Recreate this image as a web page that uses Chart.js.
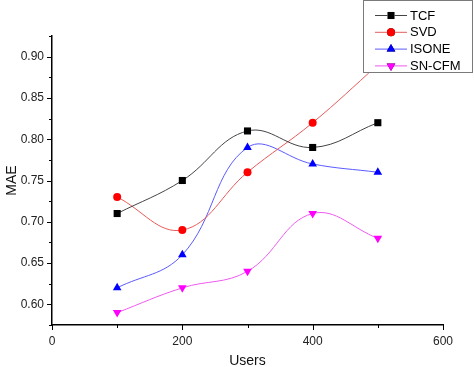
<!DOCTYPE html>
<html>
<head>
<meta charset="utf-8">
<script src="https://cdn.jsdelivr.net/npm/chart.js@4"></script>
<style>
  html, body { margin: 0; padding: 0; background: #fff; }
  #wrap { width: 474px; height: 367px; }
</style>
</head>
<body>
<div id="wrap"><canvas id="chart" width="474" height="367"></canvas></div>
<script>
const users = [100, 200, 300, 400, 500];
const tcf = [0.71, 0.75, 0.81, 0.79, 0.82];
const svd = [0.73, 0.69, 0.76, 0.82, 0.89];
const isone = [0.62, 0.66, 0.79, 0.77, 0.76];
const sncfm = [0.59, 0.62, 0.64, 0.71, 0.68];

const xLabels = [0, 200, 400, 600];
const yLabels = [0.60, 0.65, 0.70, 0.75, 0.80, 0.85, 0.90];

const pts = (ys) => users.map((u, i) => ({ x: u, y: ys[i] }));

const series = [
  { label: "TCF", values: tcf, line: "#444444", mark: "#000000", style: "rect", radius: 5, rot: 0 },
  { label: "SVD", values: svd, line: "#e85a5a", mark: "#ff0000", style: "circle", radius: 4, rot: 0 },
  { label: "ISONE", values: isone, line: "#5a5aff", mark: "#0000ff", style: "triangle", radius: 5, rot: 0 },
  { label: "SN-CFM", values: sncfm, line: "#f05af0", mark: "#ff00ff", style: "triangle", radius: 5, rot: 180 },
];

const FONT = "'Liberation Sans', Arial, sans-serif";

// tick marks: long at labelled values, short in between
const tickMarks = {
  id: "tickMarks",
  afterDraw(chart) {
    const ctx = chart.ctx;
    const xs = chart.scales.x, ys = chart.scales.y;
    ctx.save();
    ctx.strokeStyle = "#000";
    ctx.lineWidth = 1;
    ctx.beginPath();
    xs.ticks.forEach((t) => {
      const px = Math.round(xs.getPixelForValue(t.value)) + 0.5;
      const len = xLabels.includes(t.value) ? 5 : 3;
      ctx.moveTo(px, xs.top);
      ctx.lineTo(px, xs.top + len);
    });
    ys.ticks.forEach((t) => {
      const py = Math.round(ys.getPixelForValue(t.value)) + 0.5;
      const major = yLabels.some((v) => Math.abs(v - t.value) < 1e-6);
      const len = major ? 5 : 3;
      ctx.moveTo(ys.right, py);
      ctx.lineTo(ys.right - len, py);
    });
    ctx.stroke();
    ctx.restore();
  },
};

// legend box sitting over the top right corner
const boxLegend = {
  id: "boxLegend",
  afterDraw(chart) {
    const ctx = chart.ctx;
    const bx = 363.5, by = 0.5, bw = 109, bh = 72;
    ctx.save();
    ctx.fillStyle = "#fff";
    ctx.fillRect(bx, by, bw, bh);
    ctx.strokeStyle = "#7a7a7a";
    ctx.lineWidth = 1;
    ctx.strokeRect(bx, by, bw, bh);
    ctx.font = "13px " + FONT;
    ctx.textBaseline = "middle";
    chart.data.datasets.forEach((ds, i) => {
      const y = 15 + i * 16.8;
      ctx.strokeStyle = ds.borderColor;
      ctx.beginPath();
      ctx.moveTo(375, y + 0.5);
      ctx.lineTo(407, y + 0.5);
      ctx.stroke();
      Chart.helpers.drawPoint(ctx, {
        pointStyle: ds.pointStyle,
        radius: ds.pointRadius,
        rotation: ds.pointRotation,
        borderWidth: 0,
      }, 391, y + 0.5);
      ctx.fillStyle = ds.pointBackgroundColor;
      ctx.fill();
      ctx.fillStyle = "#000";
      ctx.fillText(ds.label, 410, y + 1);
    });
    ctx.restore();
  },
};

new Chart(document.getElementById("chart"), {
  type: "line",
  data: {
    datasets: series.map((s) => ({
      label: s.label,
      data: pts(s.values),
      borderColor: s.line,
      borderWidth: 1,
      tension: 0.4,
      pointStyle: s.style,
      pointRadius: s.radius,
      pointRotation: s.rot,
      pointBackgroundColor: s.mark,
      pointBorderColor: s.mark,
      pointBorderWidth: 0,
      fill: false,
    })),
  },
  options: {
    responsive: false,
    animation: false,
    layout: { padding: { top: 36, right: 31, left: 0, bottom: 0 } },
    plugins: { legend: { display: false }, tooltip: { enabled: false } },
    scales: {
      x: {
        type: "linear",
        min: 0,
        max: 600,
        grid: { display: false },
        border: { display: true, color: "#000", width: 1.5 },
        ticks: {
          stepSize: 100,
          padding: 1,
          color: "#222",
          font: { family: FONT, size: 12 },
          callback: (v) => (xLabels.includes(v) ? String(v) : ""),
        },
        title: {
          display: true,
          text: "Users",
          color: "#111",
          font: { family: FONT, size: 14 },
          padding: { top: 4, bottom: -3 },
        },
        afterFit: (s) => { s.height = 42; },
      },
      y: {
        min: 0.575,
        max: 0.925,
        grid: { display: false },
        border: { display: true, color: "#000", width: 1.5 },
        ticks: {
          stepSize: 0.025,
          padding: 0,
          color: "#222",
          font: { family: FONT, size: 12 },
          callback: (v) => {
            const hit = yLabels.find((l) => Math.abs(l - v) < 1e-6);
            return hit === undefined ? "" : hit.toFixed(2);
          },
        },
        title: {
          display: true,
          text: "MAE",
          color: "#111",
          font: { family: FONT, size: 14 },
          padding: { top: 4, bottom: 4 },
        },
        afterFit: (s) => { s.width = 52; },
      },
    },
  },
  plugins: [tickMarks, boxLegend],
});
</script>
</body>
</html>
